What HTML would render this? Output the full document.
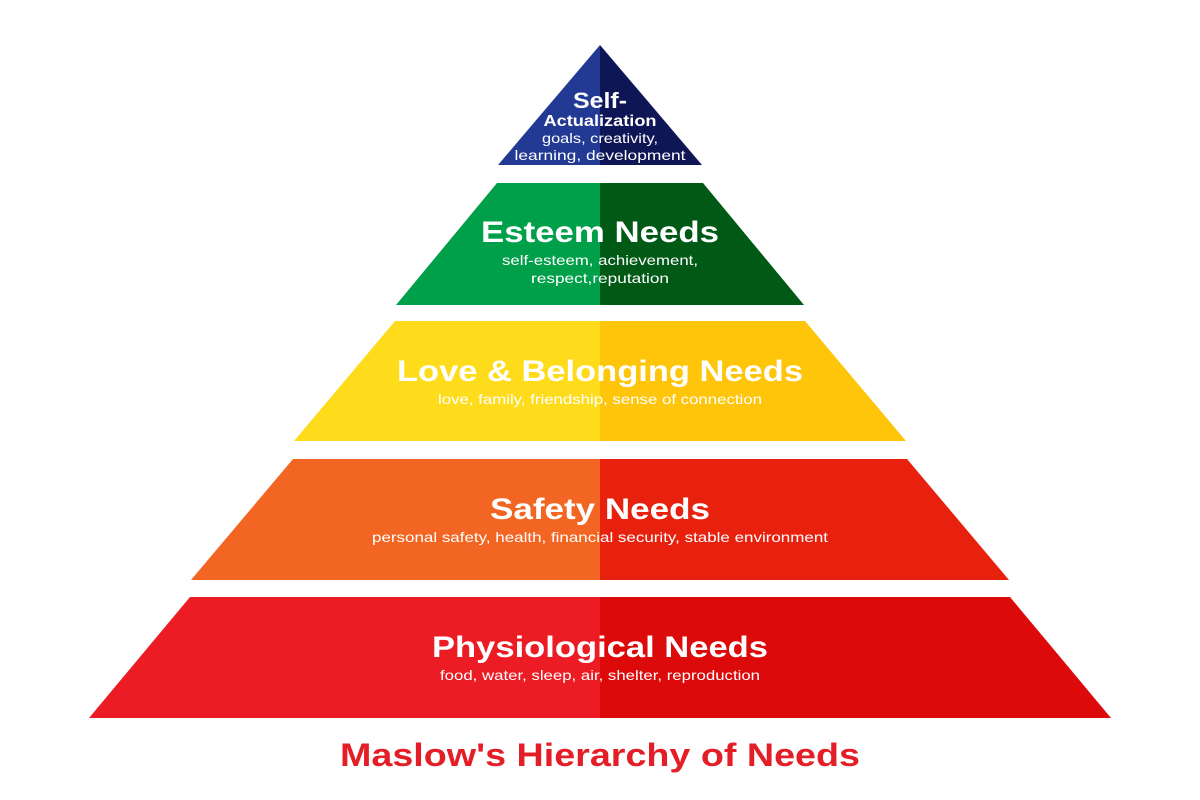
<!DOCTYPE html>
<html><head><meta charset="utf-8"><style>
html,body{margin:0;padding:0;background:#fff;width:1200px;height:800px;overflow:hidden}
svg{display:block}
text{font-family:"Liberation Sans",sans-serif;fill:#fff;text-anchor:middle}
.h{font-weight:bold}
</style></head><body>
<svg width="1200" height="800" viewBox="0 0 1200 800">
<polygon points="600,45 498,165 600,165" fill="#233a95"/>
<polygon points="600,45 702,165 600,165" fill="#0f1655"/>
<polygon points="497,183 600,183 600,305 396,305" fill="#00a04a"/>
<polygon points="600,183 703,183 804,305 600,305" fill="#005a16"/>
<polygon points="395,321 600,321 600,441 294,441" fill="#fedc1c"/>
<polygon points="600,321 805,321 906,441 600,441" fill="#fec50a"/>
<polygon points="293,459 600,459 600,580 191,580" fill="#f26522"/>
<polygon points="600,459 907,459 1009,580 600,580" fill="#e8210f"/>
<polygon points="190,597 600,597 600,718 89,718" fill="#ec1c24"/>
<polygon points="600,597 1010,597 1111,718 600,718" fill="#dd0a0c"/>
<text x="600" y="108" class="h" font-size="22" textLength="54" lengthAdjust="spacingAndGlyphs">Self-</text>
<text x="600" y="126" class="h" font-size="16" textLength="113" lengthAdjust="spacingAndGlyphs">Actualization</text>
<text x="600" y="143" font-size="14" textLength="116" lengthAdjust="spacingAndGlyphs">goals, creativity,</text>
<text x="600" y="160" font-size="14" textLength="171" lengthAdjust="spacingAndGlyphs">learning, development</text>
<text x="600" y="242" class="h" font-size="30" textLength="238" lengthAdjust="spacingAndGlyphs">Esteem Needs</text>
<text x="600" y="265" font-size="14" textLength="196" lengthAdjust="spacingAndGlyphs">self-esteem, achievement,</text>
<text x="600" y="283" font-size="14" textLength="138" lengthAdjust="spacingAndGlyphs">respect,reputation</text>
<text x="600" y="381" class="h" font-size="30" textLength="406" lengthAdjust="spacingAndGlyphs">Love &amp; Belonging Needs</text>
<text x="600" y="404" font-size="14" textLength="324" lengthAdjust="spacingAndGlyphs">love, family, friendship, sense of connection</text>
<text x="600" y="519" class="h" font-size="30" textLength="220" lengthAdjust="spacingAndGlyphs">Safety Needs</text>
<text x="600" y="542" font-size="14" textLength="456" lengthAdjust="spacingAndGlyphs">personal safety, health, financial security, stable environment</text>
<text x="600" y="657" class="h" font-size="30" textLength="336" lengthAdjust="spacingAndGlyphs">Physiological Needs</text>
<text x="600" y="680" font-size="14" textLength="320" lengthAdjust="spacingAndGlyphs">food, water, sleep, air, shelter, reproduction</text>
<text x="600" y="766" class="h" font-size="32" textLength="520" lengthAdjust="spacingAndGlyphs" style="fill:#e41e26">Maslow's Hierarchy of Needs</text>
</svg>
</body></html>
